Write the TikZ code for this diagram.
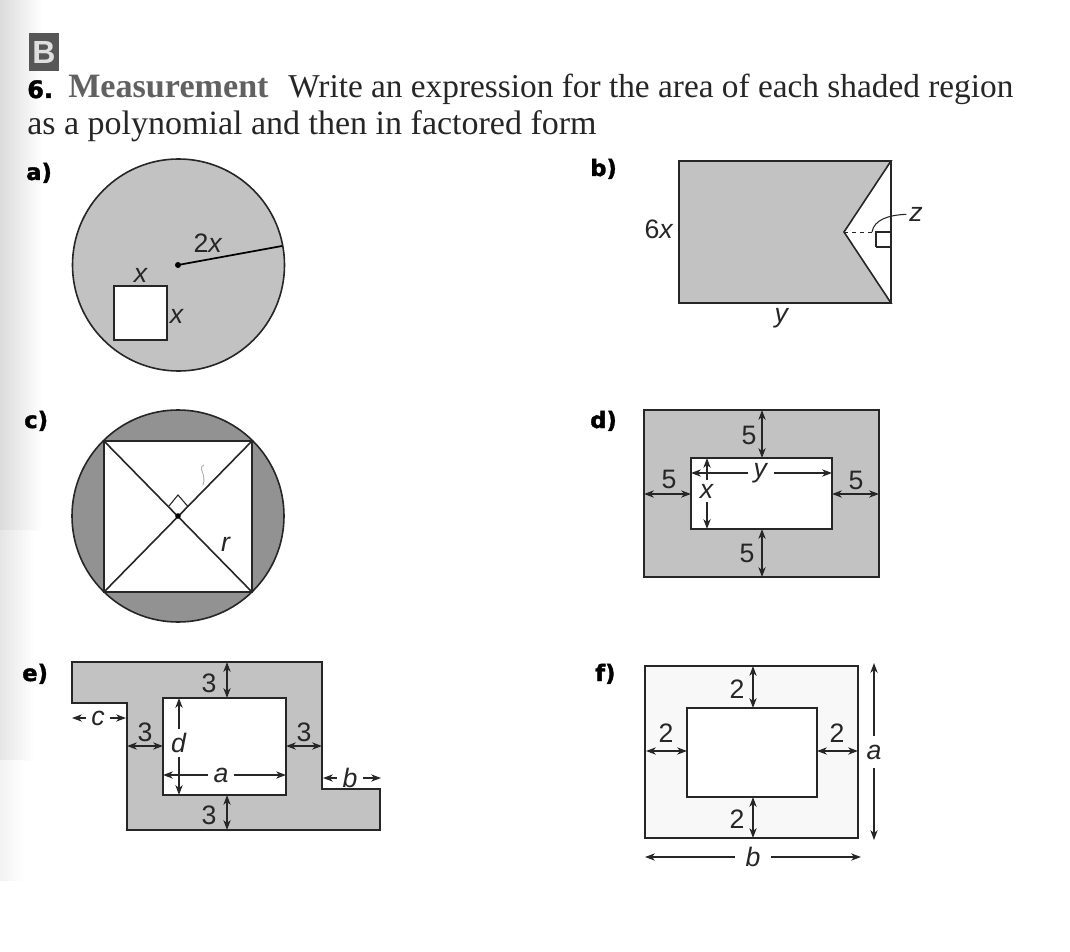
\documentclass[tikz,border=0pt]{standalone}
\usepackage{fontspec}
\setmainfont{Liberation Serif}
\setsansfont{Liberation Sans}
\newfontfamily\heavysans[FakeBold=1.6]{DejaVu Sans Bold}
\usetikzlibrary{arrows.meta}
\definecolor{shadeA}{HTML}{C2C2C2}
\definecolor{shadeC}{HTML}{929292}
\definecolor{shadeF}{HTML}{F8F8F8}
\tikzset{
  outline/.style={draw=black!85,line width=1.2pt},
  dimarrow/.style={black!85,line width=.85pt,{Stealth[length=7.5pt,width=5.5pt]}-{Stealth[length=7.5pt,width=5.5pt]}},
  halfarrow/.style={black!85,line width=.85pt,-{Stealth[length=7.5pt,width=5.5pt]}},
  lbl/.style={font=\sffamily\fontsize{20}{20}\selectfont,text=black!85,inner sep=0pt},
  gaplbl/.style={lbl,inner xsep=4pt,inner ysep=3pt},
  letter/.style={font=\heavysans\fontsize{17}{17}\selectfont,anchor=base west,inner sep=0pt},
  headtext/.style={anchor=base west,text=black!85,inner sep=0pt}
}
\begin{document}
\begin{tikzpicture}[x=.75pt,y=-.75pt]
  \useasboundingbox (0,0) rectangle (1070,952);
  % page gutter
  \shade[left color=black!14,right color=white] (0,0) rectangle (42,530);
  \shade[left color=black!10,right color=white] (0,530) rectangle (34,760);
  \shade[left color=black!5,right color=white] (0,760) rectangle (24,880);
  % Heading
  \node[fill=black!66,minimum width=22pt,minimum height=29pt,inner sep=0pt,
        font=\sffamily\bfseries\fontsize{24}{24}\selectfont,text=black!12] (tag) at (44,52) {B};
  \node[letter,font=\heavysans\fontsize{18}{18}\selectfont] (num) at (27,98) {6.};
  \node[headtext,font=\bfseries\fontsize{25.6}{25.6}\selectfont,text=black!62] (meas) at (68,98) {Measurement};
  \node[headtext,font=\fontsize{25}{25}\selectfont] (line1) at (288,98) {Write an expression for the area of each shaded region};
  \node[headtext,font=\fontsize{25.5}{25.5}\selectfont] (line2) at (27,135) {as a polynomial and then in factored form};
  % Part a
  \node[letter] (la) at (26,180) {a)};
  \draw[outline,fill=shadeA] (178.5,265) circle (106);
  \draw[outline,fill=white] (114,286) rectangle (167,340);
  \draw[line width=1.3pt] (178,265) -- (282,246);
  \fill (178,265) circle (3);
  \node[lbl] (a2x) at (208,243) {2\textit{x}};
  \node[lbl] (ax1) at (141,275) {\textit{x}};
  \node[lbl] (ax2) at (177,316) {\textit{x}};
  % Part b
  \node[letter] (lb) at (590,176) {b)};
  \draw[outline,fill=shadeA] (679,161) -- (891,161) -- (844,232) -- (891,303) -- (679,303) -- cycle;
  \draw[outline] (891,161) -- (891,303);
  \draw[black!85,line width=.6pt,dashed] (844,232) -- (872,232);
  \draw[black!85,line width=.8pt] (876,247) -- (876,232) -- (891,232) (876,247) -- (891,247);
  \node[lbl,inner xsep=2pt] (bz) at (916,214) {\textit{z}};
  \draw[black!85,line width=.8pt] (872,232) .. controls (874,220) and (888,215) .. (bz);
  \node[lbl] (b6x) at (659,229) {6\textit{x}};
  \node[lbl] (by) at (782,318) {\textit{y}};
  % Part c
  \node[letter] (lc) at (24,428) {c)};
  \draw[outline,fill=shadeC] (178,516) circle (106);
  \draw[outline,fill=white] (104,441) rectangle (252,592);
  \draw[outline] (104,441) -- (252,592) (252,441) -- (104,592);
  \draw[black!85,line width=.8pt] (169,506) -- (178,495) -- (187.5,506);
  \fill (178,516) circle (2.8);
  \draw[black!35,line width=.6pt] (204,465) .. controls (197,468) and (207,474) .. (203,485);
  \node[lbl] (cr) at (226,544) {\textit{r}};
  % Part d
  \node[letter] (ld) at (590,428) {d)};
  \draw[outline,fill=shadeA] (644,410) rectangle (879,577);
  \draw[outline,fill=white] (691,458) rectangle (832,529);
  \draw[dimarrow] (762,410) -- (762,458);
  \draw[dimarrow] (762,529) -- (762,577);
  \draw[dimarrow] (644,494) -- (691,494);
  \draw[dimarrow] (832,494) -- (879,494);
  \node[lbl] (d5t) at (749,435) {5};
  \node[lbl] (d5b) at (747,553) {5};
  \node[lbl] (d5l) at (669,479) {5};
  \node[lbl] (d5r) at (856,480) {5};
  \node[gaplbl] (dy) at (761,473) {\textit{y}};
  \node[gaplbl] (dx) at (707,491) {\textit{x}};
  \draw[halfarrow] (dy) -- (691,473);
  \draw[halfarrow] (dy) -- (832,473);
  \draw[halfarrow] (dx) -- (707,458);
  \draw[halfarrow] (dx) -- (707,529);
  % Part e
  \node[letter] (le) at (22,681) {e)};
  \draw[outline,fill=shadeA] (72,662) -- (322,662) -- (322,789) -- (380,789) -- (380,830)
    -- (127,830) -- (127,703) -- (72,703) -- cycle;
  \draw[outline,fill=white] (163,698) rectangle (286,795);
  \draw[dimarrow] (227,662) -- (227,698);
  \draw[dimarrow] (227,795) -- (227,830);
  \draw[dimarrow] (127,746) -- (163,746);
  \draw[dimarrow] (286,746) -- (322,746);
  \node[lbl] (e3t) at (209,683) {3};
  \node[lbl] (e3b) at (209,815) {3};
  \node[lbl] (e3l) at (145,732) {3};
  \node[lbl] (e3r) at (304,732) {3};
  \node[gaplbl] (ec) at (98,718) {\textit{c}};
  \draw[halfarrow] (ec) -- (72,718);
  \draw[halfarrow] (ec) -- (126,718);
  \node[gaplbl] (eb) at (350,778) {\textit{b}};
  \draw[halfarrow] (eb) -- (323,778);
  \draw[halfarrow] (eb) -- (381,778);
  \node[gaplbl] (ed) at (179,743) {\textit{d}};
  \node[gaplbl] (ea) at (221,775) {\textit{a}};
  \draw[halfarrow] (ed) -- (179,698);
  \draw[halfarrow] (ed) -- (179,795);
  \draw[halfarrow] (ea) -- (163,775);
  \draw[halfarrow] (ea) -- (286,775);
  % Part f
  \node[letter] (lf) at (595,681) {f)};
  \draw[outline,fill=shadeF] (645,666) rectangle (858,838);
  \draw[outline,fill=white] (687,708) rectangle (817,797);
  \draw[dimarrow] (753,666) -- (753,708);
  \draw[dimarrow] (753,797) -- (753,838);
  \draw[dimarrow] (646,751) -- (687,751);
  \draw[dimarrow] (817,751) -- (858,751);
  \node[lbl] (f2t) at (737,689) {2};
  \node[lbl] (f2b) at (737,819) {2};
  \node[lbl] (f2l) at (666,733) {2};
  \node[lbl] (f2r) at (837,733) {2};
  \node[gaplbl,inner ysep=6pt] (fa) at (874,752) {\textit{a}};
  \node[gaplbl,inner xsep=8pt] (fb) at (753,857) {\textit{b}};
  \draw[halfarrow] (fa) -- (874,663);
  \draw[halfarrow] (fa) -- (874,840);
  \draw[halfarrow] (fb) -- (645,857);
  \draw[halfarrow] (fb) -- (861,857);
\end{tikzpicture}
\end{document}
